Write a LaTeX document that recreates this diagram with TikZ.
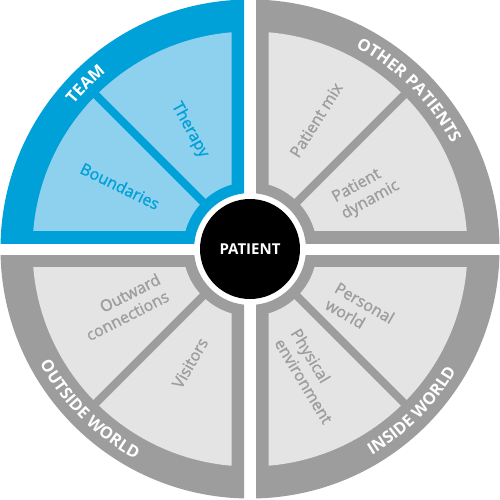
\documentclass[tikz,border=0pt]{standalone}
\usepackage{fontspec}
\setmainfont{Open Sans}
\newfontfamily\semifont{Open Sans}[FakeBold=1.2]
\usetikzlibrary{decorations.text}
\definecolor{bandblue}{HTML}{00A0D8}
\definecolor{lightblue}{HTML}{8ED1EE}
\definecolor{bandgray}{HTML}{9D9D9D}
\definecolor{lightgrey}{HTML}{E4E4E4}
\newcommand{\bandfont}{\fontsize{16.5}{19}\selectfont\bfseries}
\tikzset{
  innerlbl/.style={inner sep=0pt, font=\fontsize{16}{19}\selectfont\semifont},
  bluelbl/.style={innerlbl, text=bandblue},
  graylbl/.style={innerlbl, text=bandgray},
  bandtext/.style={decorate, decoration={text along path, text color=white, text align=center, text={|\bandfont|#1}}}
}
\begin{document}
\begin{tikzpicture}[x=1pt,y=1pt]
\useasboundingbox (-250,-250) rectangle (250,249);
\fill[white] (-250,-250) rectangle (250,249);
\foreach \sx/\sy/\ang/\bc/\lc in {-1/1/135/bandblue/lightblue, 1/1/45/bandgray/lightgrey, -1/-1/225/bandgray/lightgrey, 1/-1/315/bandgray/lightgrey}{
  \begin{scope}
    \clip (\sx*6,\sy*6) rectangle (\sx*262,\sy*262);
    \fill[\bc, even odd rule] (0,0) circle (249.5) (0,0) circle (56);
  \end{scope}
  \begin{scope}
    \clip (\sx*18.5,\sy*18.5) rectangle (\sx*262,\sy*262);
    \fill[\lc, even odd rule] (0,0) circle (217.5) (0,0) circle (67);
  \end{scope}
  \draw[\bc, line width=8pt] (\ang:60pt) -- (\ang:222pt);
}
% band texts
\path[bandtext=TEAM] (180:227.6pt) arc[start angle=180, end angle=90, radius=227.6pt];
\path[bandtext=OTHER PATIENTS] (90:227.6pt) arc[start angle=90, end angle=0, radius=227.6pt];
\path[bandtext=OUTSIDE WORLD] (180:239.4pt) arc[start angle=180, end angle=270, radius=239.4pt];
\path[bandtext=INSIDE WORLD] (270:239.4pt) arc[start angle=270, end angle=360, radius=239.4pt];
% inner labels
\node[bluelbl, rotate=-61] (therapy) at (-60,119) {Therapy};
\node[bluelbl, rotate=-26] (boundaries) at (-130,63) {Boundaries};
\node[graylbl, rotate=58] (mix) at (66,129) {Patient mix};
\node[graylbl, rotate=29, align=left] (dynamic) at (116,57) {Patient\\dynamic};
\node[graylbl, rotate=27, align=right] (outward) at (-127,-58) {Outward\\connections};
\node[graylbl, rotate=60] (visitors) at (-60,-114) {Visitors};
\node[graylbl, rotate=-30, align=left] (personal) at (110,-62) {Personal\\world};
\node[graylbl, rotate=-59, align=left] (physical) at (62,-127) {Physical\\environment};
% center
\node[circle, fill=black, minimum size=100pt, inner sep=0pt, text=white, font=\fontsize{15}{18}\selectfont\bfseries] (patient) at (0,0) {PATIENT};
\end{tikzpicture}
\end{document}
